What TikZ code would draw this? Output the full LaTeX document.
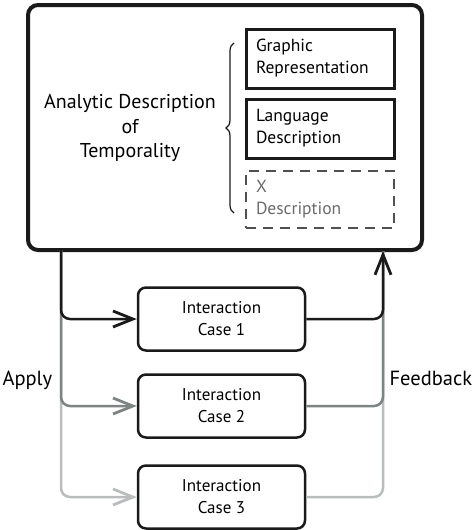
\documentclass[tikz,border=0pt]{standalone}
\usepackage{fontspec}
\setmainfont{PT Sans}
\usepackage{xcolor}
\definecolor{inkblack}{HTML}{1A1A1A}
\definecolor{midgrey}{HTML}{7E8383}
\definecolor{palegrey}{HTML}{B9BDBD}
\definecolor{dashgrey}{HTML}{505050}
\definecolor{textgrey}{HTML}{6A6A6A}
\usepackage{tikz}
\usetikzlibrary{positioning, arrows.meta, decorations.pathreplacing}

\begin{document}
\begin{tikzpicture}[x=1pt, y=-1pt,
  frame/.style={draw=inkblack, line width=4pt, rounded corners=10pt,
    minimum width=394pt, minimum height=245pt, inner sep=0pt},
  subbox/.style={draw=inkblack, line width=3pt, minimum width=148pt,
    minimum height=59pt, text width=128pt, inner xsep=10pt, align=left,
    font=\fontsize{17.5pt}{22pt}\selectfont},
  casebox/.style={draw=inkblack, line width=2.5pt, rounded corners=8pt,
    minimum width=167pt, minimum height=63pt, align=center,
    font=\fontsize{17pt}{22pt}\selectfont},
  caseline/.style={line width=2.5pt, rounded corners=9pt,
    -{Straight Barb[length=20pt, width=16pt, line width=2.8pt]}},
  feedline/.style={line width=2.5pt, rounded corners=9pt}]
  \useasboundingbox (0,0) rectangle (474,530);

  \node[frame] (main) at (225,127.5) {};
  \node[align=center, font=\fontsize{20pt}{24.5pt}\selectfont] (analytic) at (130,128)
    {Analytic Description\\of\\Temporality};
  \node[subbox] (graphic) at (320,58.5) {Graphic\\Representation};
  \node[subbox] (language) at (320,128.5) {Language\\Description};
  \node[subbox, draw=dashgrey, line width=2pt, dash pattern=on 10pt off 7pt,
    text=textgrey, minimum height=57pt] (xdesc) at (320,199.5) {X\\Description};
  \draw[line width=1.2pt, inkblack, decorate, decoration={brace, amplitude=8pt}]
    (234,213) -- (234,43);

  \node[casebox] (case1) at (221.5,319) {Interaction\\Case 1};
  \node[casebox] (case2) at (221.5,406) {Interaction\\Case 2};
  \node[casebox] (case3) at (221.5,497) {Interaction\\Case 3};

  \coordinate (applytop) at (61,250);
  \coordinate (feedtop) at (383,251);

  \draw[caseline, palegrey] (applytop) |- (case3.west);
  \draw[feedline, palegrey] (case3.east) -| (feedtop);
  \draw[caseline, midgrey] (applytop) |- (case2.west);
  \draw[feedline, midgrey] (case2.east) -| (feedtop);
  \draw[caseline, inkblack] (applytop) |- (case1.west);
  \draw[caseline, inkblack] (case1.east) -| (feedtop);

  \node[anchor=west, font=\fontsize{20.5pt}{24pt}\selectfont] (apply) at (-1,380) {Apply};
  \node[anchor=west, font=\fontsize{20.5pt}{24pt}\selectfont] (feedback) at (386,378) {Feedback};
\end{tikzpicture}
\end{document}
